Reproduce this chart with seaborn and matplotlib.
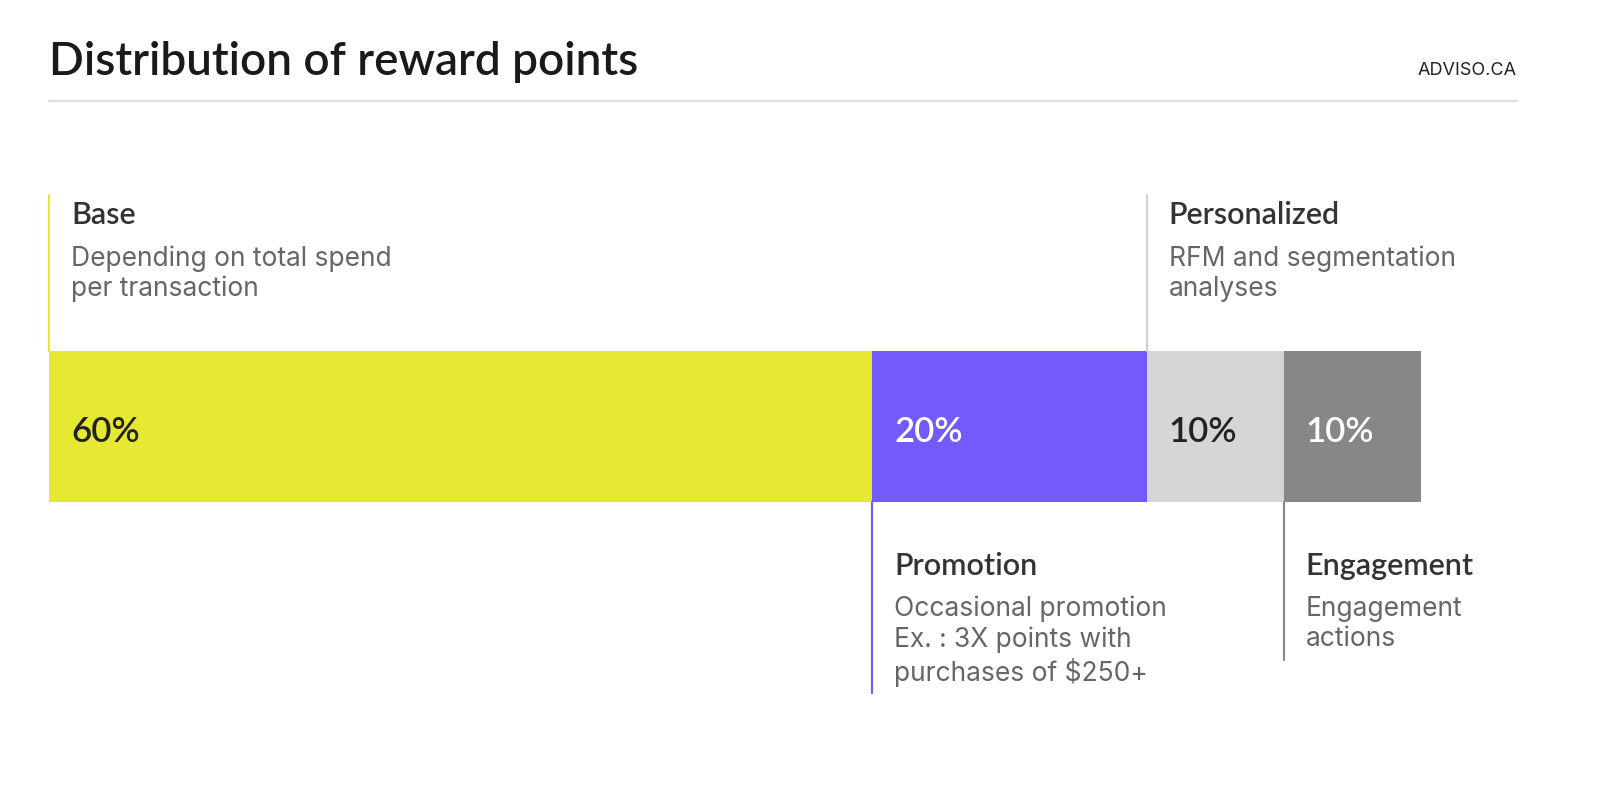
import matplotlib
matplotlib.use("Agg")
import matplotlib.pyplot as plt
import seaborn as sns

categories = ["Base", "Promotion", "Personalized", "Engagement"]
values = [60, 20, 10, 10]
labels = ["60%", "20%", "10%", "10%"]
descs = ["Depending on total spend\nper transaction",
         "Occasional promotion\nEx. : 3X points with\npurchases of $250+",
         "RFM and segmentation\nanalyses",
         "Engagement\nactions"]
colors = ["#E6E832", "#7459FB", "#D6D6D6", "#878787"]
txtcol = ["#222222", "white", "#222222", "white"]

sns.set_theme(style="white")
plt.rcParams['font.family'] = ['Inter', 'DejaVu Sans']

W, H = 1601, 789
fig = plt.figure(figsize=(W/100, H/100), dpi=100)
ax = fig.add_axes([49/W, 0, 1372/W, 1])
ax.set_xlim(0, 100)
ax.set_ylim(H, 0)
ax.axis("off")
pp = 1372/100  # px per percent

left = 0
for i, (c, v) in enumerate(zip(categories, values)):
    ax.barh(426.5, v, left=left, height=151, color=colors[i], linewidth=0)
    ax.text(left + 22/pp, 432, labels[i], fontsize=25, color=txtcol[i],
            va="center", ha="left", family=['Lato', 'DejaVu Sans'], weight="semibold")
    above = i in (0, 2)
    lc = {0: colors[0], 1: colors[1], 2: "#D0D0D0", 3: "#888888"}[i]
    if above:
        ax.plot([left, left], [195, 351], color=lc, lw=1.5, clip_on=False)
        ty = 215
    else:
        ax.plot([left, left], [502, 693 if i == 1 else 660], color=lc, lw=1.5, clip_on=False)
        ty = 566
    ax.text(left + 22/pp, ty, c, fontsize=22, color="#333333", va="center",
            family=['Lato', 'DejaVu Sans'], weight="semibold", clip_on=False)
    ax.text(left + 22/pp, ty + 30, descs[i], fontsize=19, color="#666666", va="top",
            linespacing=1.2, clip_on=False)
    left += v

ax.text(0, 62, "Distribution of reward points", fontsize=33, color="#1a1a1a",
        va="center", family=['Lato', 'DejaVu Sans'], weight="semibold", clip_on=False)
ax.text((1517-49)/pp, 70, "ADVISO.CA", fontsize=13, color="#222222",
        va="center", ha="right", clip_on=False)
ax.plot([0, (1517-49)/pp], [101, 101], color="#DDDDDD", lw=1.5, clip_on=False)

fig.savefig("out.png", dpi=100, facecolor="white")
